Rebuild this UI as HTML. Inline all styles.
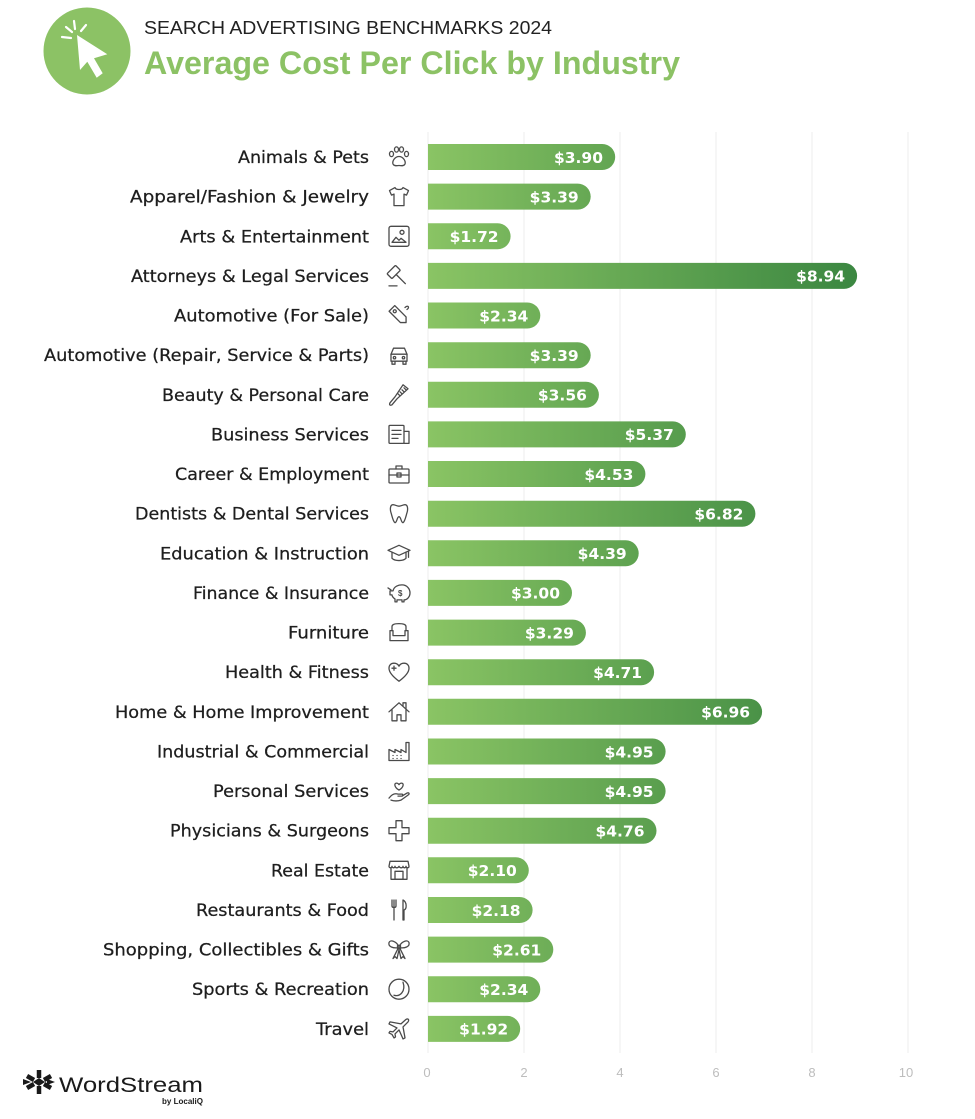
<!DOCTYPE html>
<html><head><meta charset="utf-8"><style>
html,body{margin:0;padding:0;background:#fff;}
svg{display:block;}
.lab{font-family:"DejaVu Sans","Liberation Sans",sans-serif;font-size:16.5px;fill:#1e1e1e;stroke:#1e1e1e;stroke-width:0.25;text-anchor:end;}
.val{font-family:"DejaVu Sans","Liberation Sans",sans-serif;font-size:15.5px;font-weight:bold;fill:#fff;text-anchor:end;}
.tick{font-family:"Liberation Sans",sans-serif;font-size:13px;fill:#bdbdbd;text-anchor:middle;}
.ic{fill:none;stroke:#4a4a4a;stroke-width:1.3;stroke-linecap:round;stroke-linejoin:round;}
</style></head><body>
<svg width="975" height="1119" viewBox="0 0 975 1119" xmlns="http://www.w3.org/2000/svg">
<rect width="975" height="1119" fill="#fff"/>
<defs>
<linearGradient id="g0"><stop offset="0" stop-color="#8ac464"/><stop offset="1" stop-color="#62a552"/></linearGradient>
<linearGradient id="g1"><stop offset="0" stop-color="#8ac464"/><stop offset="1" stop-color="#66a854"/></linearGradient>
<linearGradient id="g2"><stop offset="0" stop-color="#8ac464"/><stop offset="1" stop-color="#75b45b"/></linearGradient>
<linearGradient id="g3"><stop offset="0" stop-color="#8ac464"/><stop offset="1" stop-color="#3b8741"/></linearGradient>
<linearGradient id="g4"><stop offset="0" stop-color="#8ac464"/><stop offset="1" stop-color="#6faf58"/></linearGradient>
<linearGradient id="g6"><stop offset="0" stop-color="#8ac464"/><stop offset="1" stop-color="#64a753"/></linearGradient>
<linearGradient id="g7"><stop offset="0" stop-color="#8ac464"/><stop offset="1" stop-color="#569c4d"/></linearGradient>
<linearGradient id="g8"><stop offset="0" stop-color="#8ac464"/><stop offset="1" stop-color="#5ca150"/></linearGradient>
<linearGradient id="g9"><stop offset="0" stop-color="#8ac464"/><stop offset="1" stop-color="#4b9348"/></linearGradient>
<linearGradient id="g10"><stop offset="0" stop-color="#8ac464"/><stop offset="1" stop-color="#5ea250"/></linearGradient>
<linearGradient id="g11"><stop offset="0" stop-color="#8ac464"/><stop offset="1" stop-color="#69ab55"/></linearGradient>
<linearGradient id="g12"><stop offset="0" stop-color="#8ac464"/><stop offset="1" stop-color="#67a954"/></linearGradient>
<linearGradient id="g13"><stop offset="0" stop-color="#8ac464"/><stop offset="1" stop-color="#5ba04f"/></linearGradient>
<linearGradient id="g14"><stop offset="0" stop-color="#8ac464"/><stop offset="1" stop-color="#4a9247"/></linearGradient>
<linearGradient id="g15"><stop offset="0" stop-color="#8ac464"/><stop offset="1" stop-color="#599e4e"/></linearGradient>
<linearGradient id="g17"><stop offset="0" stop-color="#8ac464"/><stop offset="1" stop-color="#5b9f4f"/></linearGradient>
<linearGradient id="g18"><stop offset="0" stop-color="#8ac464"/><stop offset="1" stop-color="#71b159"/></linearGradient>
<linearGradient id="g19"><stop offset="0" stop-color="#8ac464"/><stop offset="1" stop-color="#71b059"/></linearGradient>
<linearGradient id="g20"><stop offset="0" stop-color="#8ac464"/><stop offset="1" stop-color="#6dad57"/></linearGradient>
<linearGradient id="g22"><stop offset="0" stop-color="#8ac464"/><stop offset="1" stop-color="#73b25a"/></linearGradient>
</defs>

<!-- Header -->
<circle cx="87" cy="51" r="43.5" fill="#8cc265"/>
<g stroke="#fff" stroke-width="2.2" stroke-linecap="round" fill="none">
<line x1="74" y1="21" x2="75" y2="29"/>
<line x1="81" y1="31" x2="86" y2="25"/>
<line x1="62" y1="37" x2="71" y2="38"/>
<line x1="66" y1="27" x2="72" y2="32"/>
</g>
<path d="M77,35 L80,70 L87.3,61.7 L96.7,77.7 L102.7,73.3 L94,58.3 L107.3,54.3 Z" fill="#fff"/>
<text x="144" y="34" font-family="Liberation Sans, sans-serif" font-size="18" fill="#222" textLength="408" lengthAdjust="spacingAndGlyphs">SEARCH ADVERTISING BENCHMARKS 2024</text>
<text x="144" y="74" font-family="Liberation Sans, sans-serif" font-size="32" font-weight="bold" fill="#8cc265" textLength="536" lengthAdjust="spacingAndGlyphs">Average Cost Per Click by Industry</text>

<!-- Gridlines -->
<g stroke="#ececec" stroke-width="1">
<line x1="428" y1="132" x2="428" y2="1053"/>
<line x1="524" y1="132" x2="524" y2="1053"/>
<line x1="620" y1="132" x2="620" y2="1053"/>
<line x1="716" y1="132" x2="716" y2="1053"/>
<line x1="812" y1="132" x2="812" y2="1053"/>
<line x1="908" y1="132" x2="908" y2="1053"/>
</g>
<text class="tick" x="427" y="1077">0</text>
<text class="tick" x="524" y="1077">2</text>
<text class="tick" x="620" y="1077">4</text>
<text class="tick" x="716" y="1077">6</text>
<text class="tick" x="812" y="1077">8</text>
<text class="tick" x="906" y="1077">10</text>

<!-- Bars -->
<path d="M428,144 H602.2 a13,13 0 0 1 0,26 H428 Z" fill="url(#g0)"/>
<path d="M428,183.6 H577.7 a13,13 0 0 1 0,26 H428 Z" fill="url(#g1)"/>
<path d="M428,223.3 H497.6 a13,13 0 0 1 0,26 H428 Z" fill="url(#g2)"/>
<path d="M428,262.9 H844.1 a13,13 0 0 1 0,26 H428 Z" fill="url(#g3)"/>
<path d="M428,302.5 H527.3 a13,13 0 0 1 0,26 H428 Z" fill="url(#g4)"/>
<path d="M428,342.2 H577.7 a13,13 0 0 1 0,26 H428 Z" fill="url(#g1)"/>
<path d="M428,381.8 H585.9 a13,13 0 0 1 0,26 H428 Z" fill="url(#g6)"/>
<path d="M428,421.4 H672.8 a13,13 0 0 1 0,26 H428 Z" fill="url(#g7)"/>
<path d="M428,461 H632.4 a13,13 0 0 1 0,26 H428 Z" fill="url(#g8)"/>
<path d="M428,500.7 H742.4 a13,13 0 0 1 0,26 H428 Z" fill="url(#g9)"/>
<path d="M428,540.3 H625.7 a13,13 0 0 1 0,26 H428 Z" fill="url(#g10)"/>
<path d="M428,579.9 H559 a13,13 0 0 1 0,26 H428 Z" fill="url(#g11)"/>
<path d="M428,619.6 H572.9 a13,13 0 0 1 0,26 H428 Z" fill="url(#g12)"/>
<path d="M428,659.2 H641.1 a13,13 0 0 1 0,26 H428 Z" fill="url(#g13)"/>
<path d="M428,698.8 H749.1 a13,13 0 0 1 0,26 H428 Z" fill="url(#g14)"/>
<path d="M428,738.5 H652.6 a13,13 0 0 1 0,26 H428 Z" fill="url(#g15)"/>
<path d="M428,778.1 H652.6 a13,13 0 0 1 0,26 H428 Z" fill="url(#g15)"/>
<path d="M428,817.7 H643.5 a13,13 0 0 1 0,26 H428 Z" fill="url(#g17)"/>
<path d="M428,857.3 H515.8 a13,13 0 0 1 0,26 H428 Z" fill="url(#g18)"/>
<path d="M428,897 H519.6 a13,13 0 0 1 0,26 H428 Z" fill="url(#g19)"/>
<path d="M428,936.6 H540.3 a13,13 0 0 1 0,26 H428 Z" fill="url(#g20)"/>
<path d="M428,976.2 H527.3 a13,13 0 0 1 0,26 H428 Z" fill="url(#g4)"/>
<path d="M428,1015.9 H507.2 a13,13 0 0 1 0,26 H428 Z" fill="url(#g22)"/>

<!-- Values -->
<text class="val" x="603" y="162.8">$3.90</text>
<text class="val" x="578.7" y="202.4">$3.39</text>
<text class="val" x="498.6" y="242.1">$1.72</text>
<text class="val" x="845.1" y="281.7">$8.94</text>
<text class="val" x="528.3" y="321.3">$2.34</text>
<text class="val" x="578.7" y="361">$3.39</text>
<text class="val" x="586.9" y="400.6">$3.56</text>
<text class="val" x="673.8" y="440.2">$5.37</text>
<text class="val" x="633.4" y="479.8">$4.53</text>
<text class="val" x="743.4" y="519.5">$6.82</text>
<text class="val" x="626.7" y="559.1">$4.39</text>
<text class="val" x="560" y="598.7">$3.00</text>
<text class="val" x="573.9" y="638.4">$3.29</text>
<text class="val" x="642.1" y="678">$4.71</text>
<text class="val" x="750.1" y="717.6">$6.96</text>
<text class="val" x="653.6" y="757.3">$4.95</text>
<text class="val" x="653.6" y="796.9">$4.95</text>
<text class="val" x="644.5" y="836.5">$4.76</text>
<text class="val" x="516.8" y="876.1">$2.10</text>
<text class="val" x="520.6" y="915.8">$2.18</text>
<text class="val" x="541.3" y="955.4">$2.61</text>
<text class="val" x="528.3" y="995">$2.34</text>
<text class="val" x="508.2" y="1034.7">$1.92</text>

<!-- Category labels -->
<text class="lab" x="369" y="163" textLength="131" lengthAdjust="spacingAndGlyphs">Animals &amp; Pets</text>
<text class="lab" x="369" y="202.6" textLength="239" lengthAdjust="spacingAndGlyphs">Apparel/Fashion &amp; Jewelry</text>
<text class="lab" x="369" y="242.3" textLength="189" lengthAdjust="spacingAndGlyphs">Arts &amp; Entertainment</text>
<text class="lab" x="369" y="281.9" textLength="238" lengthAdjust="spacingAndGlyphs">Attorneys &amp; Legal Services</text>
<text class="lab" x="369" y="321.5" textLength="195" lengthAdjust="spacingAndGlyphs">Automotive (For Sale)</text>
<text class="lab" x="369" y="361.2" textLength="325" lengthAdjust="spacingAndGlyphs">Automotive (Repair, Service &amp; Parts)</text>
<text class="lab" x="369" y="400.8" textLength="207" lengthAdjust="spacingAndGlyphs">Beauty &amp; Personal Care</text>
<text class="lab" x="369" y="440.4" textLength="158" lengthAdjust="spacingAndGlyphs">Business Services</text>
<text class="lab" x="369" y="480" textLength="194" lengthAdjust="spacingAndGlyphs">Career &amp; Employment</text>
<text class="lab" x="369" y="519.7" textLength="234" lengthAdjust="spacingAndGlyphs">Dentists &amp; Dental Services</text>
<text class="lab" x="369" y="559.3" textLength="209" lengthAdjust="spacingAndGlyphs">Education &amp; Instruction</text>
<text class="lab" x="369" y="598.9" textLength="176" lengthAdjust="spacingAndGlyphs">Finance &amp; Insurance</text>
<text class="lab" x="369" y="638.6" textLength="81" lengthAdjust="spacingAndGlyphs">Furniture</text>
<text class="lab" x="369" y="678.2" textLength="144" lengthAdjust="spacingAndGlyphs">Health &amp; Fitness</text>
<text class="lab" x="369" y="717.8" textLength="254" lengthAdjust="spacingAndGlyphs">Home &amp; Home Improvement</text>
<text class="lab" x="369" y="757.5" textLength="212" lengthAdjust="spacingAndGlyphs">Industrial &amp; Commercial</text>
<text class="lab" x="369" y="797.1" textLength="156" lengthAdjust="spacingAndGlyphs">Personal Services</text>
<text class="lab" x="369" y="836.7" textLength="199" lengthAdjust="spacingAndGlyphs">Physicians &amp; Surgeons</text>
<text class="lab" x="369" y="876.3" textLength="98" lengthAdjust="spacingAndGlyphs">Real Estate</text>
<text class="lab" x="369" y="916" textLength="173" lengthAdjust="spacingAndGlyphs">Restaurants &amp; Food</text>
<text class="lab" x="369" y="955.6" textLength="266" lengthAdjust="spacingAndGlyphs">Shopping, Collectibles &amp; Gifts</text>
<text class="lab" x="369" y="995.2" textLength="177" lengthAdjust="spacingAndGlyphs">Sports &amp; Recreation</text>
<text class="lab" x="369" y="1034.9" textLength="53" lengthAdjust="spacingAndGlyphs">Travel</text>

<!-- Icons -->
<g class="ic">
<g transform="translate(387,145)">
<ellipse cx="4.5" cy="9" rx="2" ry="2.6"/><ellipse cx="9.5" cy="4.5" rx="2" ry="2.6"/><ellipse cx="14.5" cy="4.5" rx="2" ry="2.6"/><ellipse cx="19.5" cy="9" rx="2" ry="2.6"/>
<path d="M12,11.5 C8,11.5 5,16 6,19 C7,21.5 10,20.5 12,20.5 C14,20.5 17,21.5 18,19 C19,16 16,11.5 12,11.5Z"/>
</g>
<g transform="translate(387,184.6)">
<path d="M8,3 L2.5,6 L4.5,10.5 L7,9.5 V21 H17 V9.5 L19.5,10.5 L21.5,6 L16,3 C15,5.5 9,5.5 8,3Z"/>
</g>
<g transform="translate(387,224.3)">
<rect x="2" y="2" width="20" height="20" rx="2"/><circle cx="15" cy="8" r="2"/><path d="M5,18 L9,13 L12,16 L14,14 L19,18 Z"/>
</g>
<g transform="translate(387,263.9)">
<g transform="rotate(-45 12 12)"><rect x="5" y="2" width="12" height="7" rx="1"/><line x1="11" y1="9" x2="11" y2="22"/></g>
<line x1="2" y1="22" x2="10" y2="22"/>
</g>
<g transform="translate(387,303.5)">
<g transform="rotate(-45 12 12)"><path d="M8,2 H16 V18 L12,22 L8,18 Z"/><circle cx="12" cy="6" r="1.5"/></g>
<path d="M18,4 C21,1 23,4 20,6"/>
</g>
<g transform="translate(387,343.2)">
<path d="M4,11 L6.5,5 H17.5 L20,11 V18 H4Z"/><circle cx="7.5" cy="14.5" r="1.2"/><circle cx="16.5" cy="14.5" r="1.2"/>
<path d="M5,18 V21 H8 V18 M16,18 V21 H19 V18"/><line x1="4" y1="11" x2="20" y2="11"/>
</g>
<g transform="translate(387,382.8)">
<path d="M16,2 L21,6 L10,16 L5,22 C3,23 2,22 3,20 L8,14 Z"/>
<path d="M17,5 L19,7 M15,7 L17,9 M13,9 L15,11 M11,11 L13,13"/>
</g>
<g transform="translate(387,422.4)">
<rect x="2" y="3" width="15" height="18" rx="1"/><path d="M17,9 H22 V21 H17"/>
<line x1="5" y1="8" x2="14" y2="8"/><line x1="5" y1="12" x2="14" y2="12"/><line x1="5" y1="16" x2="11" y2="16"/>
</g>
<g transform="translate(387,462)">
<rect x="2" y="7" width="20" height="14" rx="1"/><path d="M9,7 V4 H15 V7"/><line x1="2" y1="13" x2="22" y2="13"/><rect x="10" y="11" width="4" height="4"/>
</g>
<g transform="translate(387,501.7)">
<path d="M6,3 C3,3 3,8 4,11 C5,14 6,20 8,21 C10,21 10,15 12,15 C14,15 14,21 16,21 C18,20 19,14 20,11 C21,8 21,3 18,3 C16,3 14,4.5 12,4.5 C10,4.5 8,3 6,3Z"/>
</g>
<g transform="translate(387,541.3)">
<path d="M1,9 L12,4 L23,9 L12,14Z"/><path d="M5,11 V17 C8,20 16,20 19,17 V11"/><line x1="21.5" y1="10" x2="21.5" y2="16"/>
</g>
<g transform="translate(387,580.9)">
<path d="M6,10 C7,5 12,4 15,4 C20,4 23,8 23,12 C23,16 20,19 17,19 V21 H15 V19 H10 V21 H8 V18 C6,17 5,15 5,14 H3 V10 Z"/>
<path d="M1,7 L4,9"/>
<text x="11" y="15" font-family="Liberation Sans, sans-serif" font-size="8" font-weight="bold" fill="#4a4a4a" stroke="none">$</text>
</g>
<g transform="translate(387,620.6)">
<path d="M5,10 V6 C5,4 7,3 12,3 C17,3 19,4 19,6 V10"/><path d="M3,10 H6 V15 H18 V10 H21 V20 H3Z"/>
</g>
<g transform="translate(387,660.2)">
<path d="M12,21 C4,15 2,11 2,8 C2,5 4,3 7,3 C9,3 11,4 12,6 C13,4 15,3 17,3 C20,3 22,5 22,8 C22,11 20,15 12,21Z"/>
<path d="M7,6 V10 M5,8 H9"/>
</g>
<g transform="translate(387,699.8)">
<path d="M2,12 L12,3 L22,12"/><path d="M5,10 V21 H10 V15 H14 V21 H19 V10"/><path d="M16,6 V3 H19 V9"/>
</g>
<g transform="translate(387,739.5)">
<path d="M2,21 V10 L8,13 V10 L14,13 V10 L19,13 V3 H22 V21Z"/>
<path d="M6,16 h.1 M10,16 h.1 M14,16 h.1 M6,19 h.1 M10,19 h.1 M14,19 h.1"/>
</g>
<g transform="translate(387,779.1)">
<path d="M12,11 C7,8 7,4 9.5,4 C11,4 12,5.5 12,5.5 C12,5.5 13,4 14.5,4 C17,4 17,8 12,11Z"/>
<path d="M2,19 C5,15 8,14 11,15 H15 C16,15 16,17 15,17 H11 M15,17 L20,14 C22,13 23,15 21,16 L14,21 C11,22 7,22 4,21"/>
</g>
<g transform="translate(387,818.7)">
<path d="M9,2 H15 V9 H22 V15 H15 V22 H9 V15 H2 V9 H9Z"/>
</g>
<g transform="translate(387,858.3)">
<path d="M3,3 H21 L22,8 C22,10 19,10 19,8 C19,10 16,10 16,8 C16,10 13,10 12,8 C11,10 8,10 8,8 C8,10 5,10 5,8 C5,10 2,10 2,8 Z"/>
<path d="M4,10 V21 H20 V10"/><rect x="8" y="13" width="8" height="8"/>
</g>
<g transform="translate(387,898)">
<path d="M5,2 V8 C5,10 9,10 9,8 V2 M7,2 V22"/>
<path d="M16,2 C20,4 20,11 17,12 V22 H16 Z"/>
</g>
<g transform="translate(387,937.6)">
<path d="M12,9 C9,3 3,2 2,5 C1,9 6,11 12,10 C18,11 23,9 22,5 C21,2 15,3 12,9Z"/>
<rect x="10.5" y="8" width="3" height="3"/>
<path d="M11,11 L6,21 L8,19 L10,21 L12,12 M13,11 L18,21 L16,19 L14,21 L12,12"/>
</g>
<g transform="translate(387,977.2)">
<circle cx="12" cy="12" r="10"/><path d="M7,18 C13,20 19,14 16,5"/>
</g>
<g transform="translate(387,1016.9)">
<path d="M20,2 C22,2 22,4 21,5 L16,10 L18,21 L16,22 L12,13 L8,17 L8.5,20 L7,21 L5,17.5 L2,16 L3,14.5 L6,15 L10,11 L2,7 L3,5 L14,7 L19,2.5 Z"/>
</g>
</g>

<!-- WordStream logo -->
<g stroke="#1a1a1a" stroke-width="4.5" stroke-linecap="butt">
<line x1="39" y1="1070" x2="39" y2="1078"/>
<line x1="39" y1="1086" x2="39" y2="1094"/>
<line x1="27" y1="1076" x2="34" y2="1080"/>
<line x1="44" y1="1084" x2="51" y2="1088"/>
<line x1="51" y1="1076" x2="44" y2="1080"/>
<line x1="34" y1="1084" x2="27" y2="1088"/>
</g>
<path d="M23,1079 L31,1082 L23,1085 Z M47,1079 L55,1082 L47,1085 Z" fill="#1a1a1a"/>
<path d="M33,1082 L39,1078 L45,1082 L39,1086 Z" fill="#1a1a1a"/>
<text x="59" y="1092" font-family="Liberation Sans, sans-serif" font-size="21" fill="#1a1a1a" textLength="144" lengthAdjust="spacingAndGlyphs">WordStream</text>
<text x="162" y="1104" font-family="Liberation Sans, sans-serif" font-size="8.5" font-weight="bold" fill="#1a1a1a" textLength="41" lengthAdjust="spacingAndGlyphs">by LocaliQ</text>
</svg>
</body></html>
